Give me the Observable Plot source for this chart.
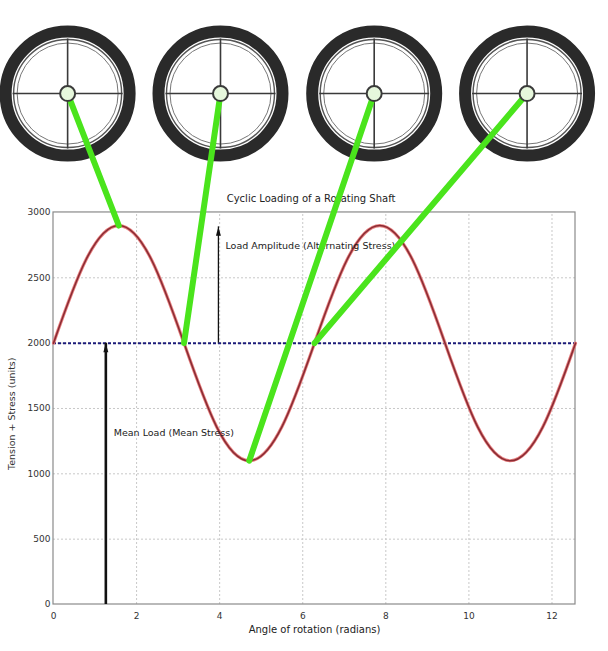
<!DOCTYPE html>
<html>
<head>
<meta charset="utf-8">
<script src="https://cdn.jsdelivr.net/npm/d3@7"></script>
<script src="https://cdn.jsdelivr.net/npm/@observablehq/plot@0.6"></script>
<style>
  html, body { margin: 0; padding: 0; background: #fff; }
  #chart svg { display: block; }
</style>
</head>
<body>
<div id="chart"></div>
<script>
// Angle of rotation (radians) and stress values
const angles = [0, 0.785, 1.571, 2.356, 3.142, 3.927, 4.712, 5.498, 6.283,
                7.069, 7.854, 8.639, 9.425, 10.21, 10.996, 11.781, 12.566];
const stress = [2000, 2640, 2900, 2640, 2000, 1360, 1100, 1360, 2000,
                2640, 2900, 2640, 2000, 1360, 1100, 1360, 2000];

const meanStress = 2000;
const xTicks = [0, 2, 4, 6, 8, 10, 12];
const yTicks = [0, 500, 1000, 1500, 2000, 2500, 3000];

// Wheels (rotating shaft positions) above the plot, and the curve points they map to
const wheelX = [0.34, 4.02, 7.72, 11.4];
const wheelY = [3910, 3910, 3910, 3910];
const contactX = [1.571, 3.142, 4.712, 6.283];
const contactY = [2900, 2000, 1100, 2000];

// Arrows
const arrowX = [3.97, 1.26];
const arrowFrom = [2000, 0];
const arrowTo = [2890, 2000];
const arrowWidth = [1.3, 2.6];

const titleText = "Cyclic Loading of a Rotating Shaft";
const ampLabel = "Load Amplitude (Alternating Stress)";
const meanLabel = "Mean Load (Mean Stress)";
const xLabel = "Angle of rotation (radians)";
const yLabel = "Tension + Stress (units)";

const curve = angles.map((a, i) => ({a, s: stress[i]}));
const wheels = wheelX.map((x, i) => ({x, y: wheelY[i], cx: contactX[i], cy: contactY[i]}));
const arrows = arrowX.map((x, i) => ({x, y1: arrowFrom[i], y2: arrowTo[i], w: arrowWidth[i]}));
const xMax = angles[angles.length - 1];

const crossSymbol = {
  draw(context, size) {
    const r = Math.sqrt(size / Math.PI);
    context.moveTo(-r, 0); context.lineTo(r, 0);
    context.moveTo(0, -r); context.lineTo(0, r);
  }
};
const headSymbol = {
  draw(context, size) {
    const r = Math.sqrt(size / Math.PI);
    context.moveTo(0, 0);
    context.lineTo(-r * 0.55, 2 * r);
    context.lineTo(r * 0.55, 2 * r);
    context.closePath();
  }
};

const font = "DejaVu Sans, Verdana, sans-serif";

const chart = Plot.plot({
  width: 608,
  height: 651,
  marginLeft: 53,
  marginRight: 33,
  marginTop: 0,
  marginBottom: 47,
  style: {fontFamily: font, background: "#fff"},
  x: {domain: [0, xMax]},
  y: {domain: [0, 4622]},
  marks: [
    // grid
    Plot.ruleX(xTicks.slice(1), {y1: 0, y2: 3000, stroke: "#c8c8c8", strokeDasharray: "2,2"}),
    Plot.ruleY(yTicks.slice(1, -1), {x1: 0, x2: xMax, stroke: "#c8c8c8", strokeDasharray: "2,2"}),
    // frame
    Plot.rect([0], {x1: 0, x2: xMax, y1: 0, y2: 3000, fill: "none", stroke: "#8a8a8a", strokeWidth: 1.2}),
    // axes
    Plot.axisX(xTicks, {tickSize: 0, tickPadding: 8, fontSize: 9, fill: "#333", label: null}),
    Plot.axisY(yTicks, {tickSize: 0, tickPadding: 3, fontSize: 9, fill: "#333", label: null, tickFormat: d3.format("d")}),
    Plot.text([xLabel], {frameAnchor: "bottom", dy: 28, fontSize: 10, fill: "#222"}),
    Plot.text([yLabel], {frameAnchor: "left", textAnchor: "middle", y: 1460, dx: -42, rotate: -90, fontSize: 9.5, fill: "#333"}),
    // mean line
    Plot.ruleY([meanStress], {x1: 0, x2: xMax, stroke: "#1c1c7a", strokeWidth: 2, strokeDasharray: "3,2"}),
    // stress curve
    Plot.line(curve, {x: "a", y: "s", curve: "natural", stroke: "#e88080", strokeWidth: 3.2}),
    Plot.line(curve, {x: "a", y: "s", curve: "natural", stroke: "#8a2c34", strokeWidth: 1.6}),
    // arrows
    Plot.ruleX(arrows, {x: "x", y1: "y1", y2: "y2", stroke: "#111", strokeWidth: "w"}),
    Plot.dot(arrows, {x: "x", y: "y2", symbol: headSymbol, r: 4.5, fill: "#111", stroke: "none"}),
    Plot.text([ampLabel], {x: 4.14, y: 2745, textAnchor: "start", fontSize: 9.5, fill: "#222"}),
    Plot.text([meanLabel], {x: 1.45, y: 1310, textAnchor: "start", fontSize: 9.5, fill: "#222"}),
    // title
    Plot.text([titleText], {x: 6.2, y: 3105, fontSize: 10, fill: "#222"}),
    // wheels
    Plot.dot(wheels, {x: "x", y: "y", r: 62, stroke: "#2a2a2a", strokeWidth: 12, fill: "#fff"}),
    Plot.dot(wheels, {x: "x", y: "y", r: 54, stroke: "#555", strokeWidth: 1.4, fill: "none"}),
    Plot.dot(wheels, {x: "x", y: "y", r: 50.5, stroke: "#777", strokeWidth: 1, fill: "none"}),
    Plot.dot(wheels, {x: "x", y: "y", r: 55, symbol: crossSymbol, stroke: "#3a3a3a", strokeWidth: 1.6, fill: "none"}),
    // green connectors
    Plot.link(wheels, {x1: "x", y1: "y", x2: "cx", y2: "cy", stroke: "#4ae41c", strokeWidth: 6, strokeLinecap: "round"}),
    // hubs
    Plot.dot(wheels, {x: "x", y: "y", r: 7.5, stroke: "#3a3a3a", strokeWidth: 2, fill: "#e6f7dc"})
  ]
});

document.getElementById("chart").appendChild(chart);
</script>
</body>
</html>
